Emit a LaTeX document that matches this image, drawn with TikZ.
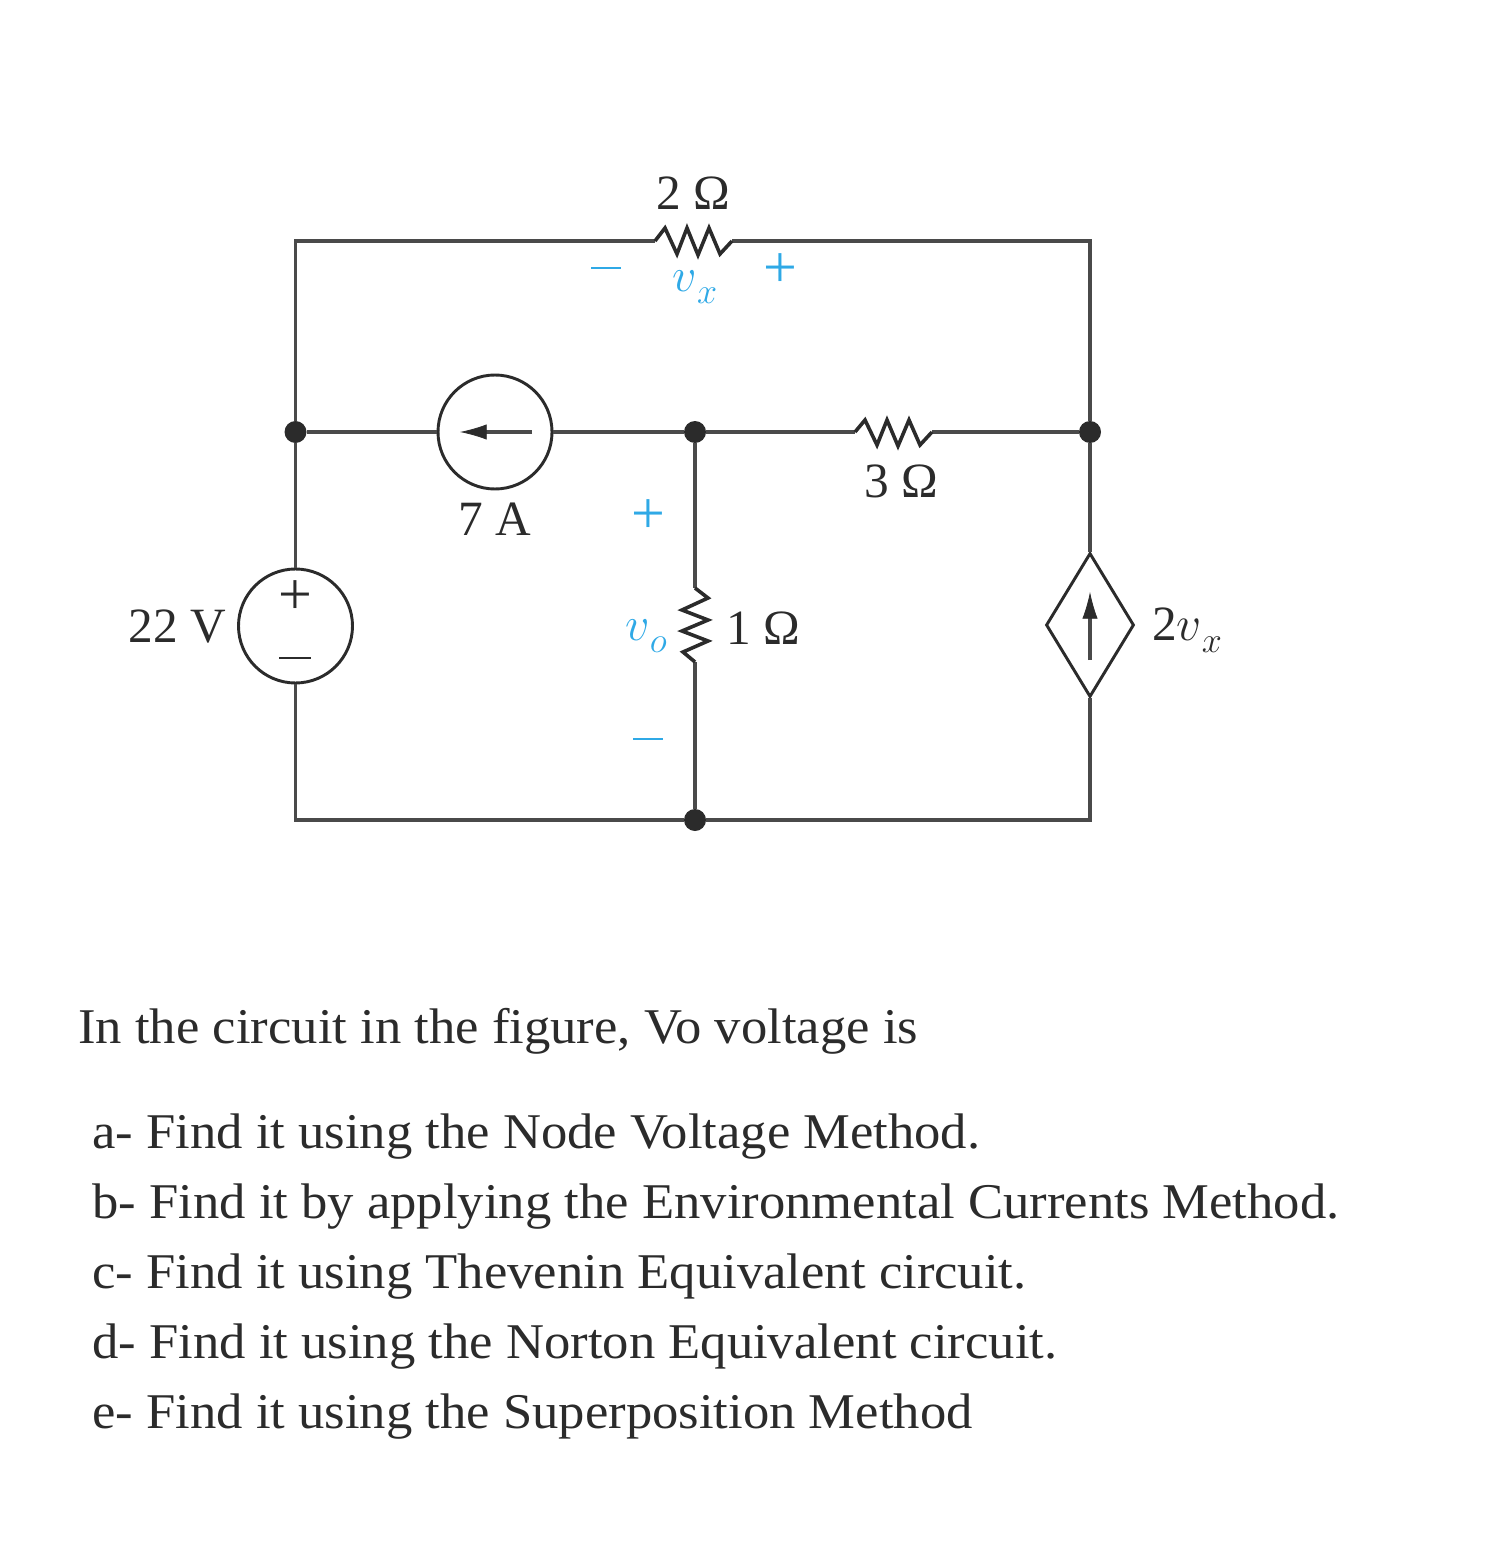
\RequirePackage{fix-cm}
\documentclass[tikz,border=0pt]{standalone}
\usepackage{fontspec}
\setmainfont{Liberation Serif}
\newfontfamily\parafont[FakeStretch=1.053]{Liberation Serif}
\usetikzlibrary{arrows.meta,shapes.geometric}
\definecolor{ink}{HTML}{2B2B2B}
\definecolor{wire}{HTML}{4A4A4A}
\definecolor{volt}{HTML}{2FA9E6}
\newcommand{\subx}[1]{\raisebox{-9pt}{\fontsize{27}{27}\selectfont$#1$}}
\tikzset{
  wireline/.style={draw=wire,line width=2.3pt},
  partline/.style={draw=ink,line width=2.7pt,line join=miter},
  junction/.style={circle,fill=ink,draw=none,minimum size=16.5pt,inner sep=0pt},
  srccircle/.style={circle,draw=ink,line width=2.2pt,fill=white,minimum size=85.5pt,inner sep=0pt},
  srcdiamond/.style={diamond,aspect=0.611,draw=ink,line width=2.2pt,fill=white,minimum width=66pt,minimum height=108pt,inner sep=0pt},
  shaftline/.style={draw=wire,line width=2.6pt},
  tipline/.style={draw=ink,line width=0.6pt,-{Latex[length=20pt,width=11.5pt,color=ink]}},
  lab/.style={text=ink,font=\fontsize{37}{37}\selectfont,inner sep=0pt,anchor=base},
  volab/.style={text=volt,font=\fontsize{36}{36}\selectfont,inner sep=0pt,anchor=base},
  sign/.style={text=ink,font=\fontsize{45}{45}\selectfont,inner sep=0pt},
  bluesign/.style={text=volt,font=\fontsize{45}{45}\selectfont,inner sep=0pt},
  para/.style={text=ink,font=\parafont\fontsize{37.5}{37.5}\selectfont,inner sep=0pt,anchor=base west}
}
\begin{document}
\begin{tikzpicture}[x=0.75pt,y=-0.75pt]
\useasboundingbox (0,0) rectangle (1489,1565);
% corners and junctions
\coordinate (tl) at (295.5,241);
\coordinate (tr) at (1090,241);
\coordinate (bl) at (295.5,820);
\coordinate (br) at (1090,820);
\node[junction] (jl) at (295.5,432) {};
\node[junction] (jc) at (695,432) {};
\node[junction] (jr) at (1090,432) {};
\node[junction] (jb) at (695,820) {};
% resistor ends
\coordinate (ra) at (655,241);
\coordinate (rb) at (732,241);
\coordinate (rc) at (855,432);
\coordinate (rd) at (932,432);
\coordinate (re) at (695,588);
\coordinate (rf) at (695,662);
% wires
\node[srccircle] (is) at (495,432) {};
\node[srccircle] (vs) at (295.5,626) {};
\node[srcdiamond] (ds) at (1090,625) {};
\draw[wireline] (jl) -- (tl) -- (ra);
\draw[wireline] (rb) -- (tr) -- (jr);
\draw[wireline] (jl) -- (is);
\draw[wireline] (is) -- (jc);
\draw[wireline] (jc) -- (rc);
\draw[wireline] (rd) -- (jr);
\draw[wireline] (jl) -- (vs);
\draw[wireline] (vs) -- (bl) -- (jb);
\draw[wireline] (jb) -- (br) -- (ds);
\draw[wireline] (ds) -- (jr);
\draw[wireline] (jc) -- (re);
\draw[wireline] (rf) -- (jb);
% resistors
\draw[partline] (ra) -- (665,228) -- (677,254) -- (687,228) -- (698,255) -- (709,228) -- (720,254) -- (rb);
\draw[partline] (rc) -- (865,420) -- (877,445) -- (887,420) -- (898,446) -- (909,420) -- (920,445) -- (rd);
\draw[partline] (re) -- (708,598) -- (682,610) -- (708,620) -- (682,631) -- (708,641) -- (683,652) -- (rf);
% source arrows
\coordinate (isa) at (532,432);
\coordinate (isc) at (485,432);
\coordinate (isb) at (460,432);
\coordinate (dsa) at (1090,660);
\coordinate (dsc) at (1090,615);
\coordinate (dsb) at (1090,592);
\draw[shaftline] (isa) -- (isc);
\draw[tipline] (isc) -- (isb);
\draw[shaftline] (dsa) -- (dsc);
\draw[tipline] (dsc) -- (dsb);
% source polarity
\node[sign] (vp) at (295,598) {+};
\node[sign] (vm) at (295,658) {\rule{24pt}{1.8pt}};
% labels
\node[lab] (l2) at (693,210) {2\kern9pt Ω};
\node[lab] (l3) at (901,497) {3\kern9pt Ω};
\node[lab] (l1) at (763,644) {1\kern9pt Ω};
\node[lab] (l7) at (495,535) {7 A};
\node[lab] (l22) at (177,642) {22 V};
\node[lab] (l2v) at (1187,640) {2$v$\subx{x}};
\node[volab] (lvx) at (695,292) {$v$\subx{x}};
\node[volab] (lvo) at (646,640) {$v$\subx{o}};
\node[bluesign] (pxm) at (606,268) {\rule{22pt}{2pt}};
\node[bluesign] (pxp) at (780,271) {+};
\node[bluesign] (pop) at (648,517) {+};
\node[bluesign] (pom) at (648,739) {\rule{22pt}{2pt}};
% question text
\node[para] (q0) at (78,1043) {In the circuit in the figure, Vo voltage is};
\node[para] (qa) at (92,1148) {a- Find it using the Node Voltage Method.};
\node[para] (qb) at (92,1218) {b- Find it by applying the Environmental Currents Method.};
\node[para] (qc) at (92,1288) {c- Find it using Thevenin Equivalent circuit.};
\node[para] (qd) at (92,1358) {d- Find it using the Norton Equivalent circuit.};
\node[para] (qe) at (92,1428) {e- Find it using the Superposition Method};
\end{tikzpicture}
\end{document}
